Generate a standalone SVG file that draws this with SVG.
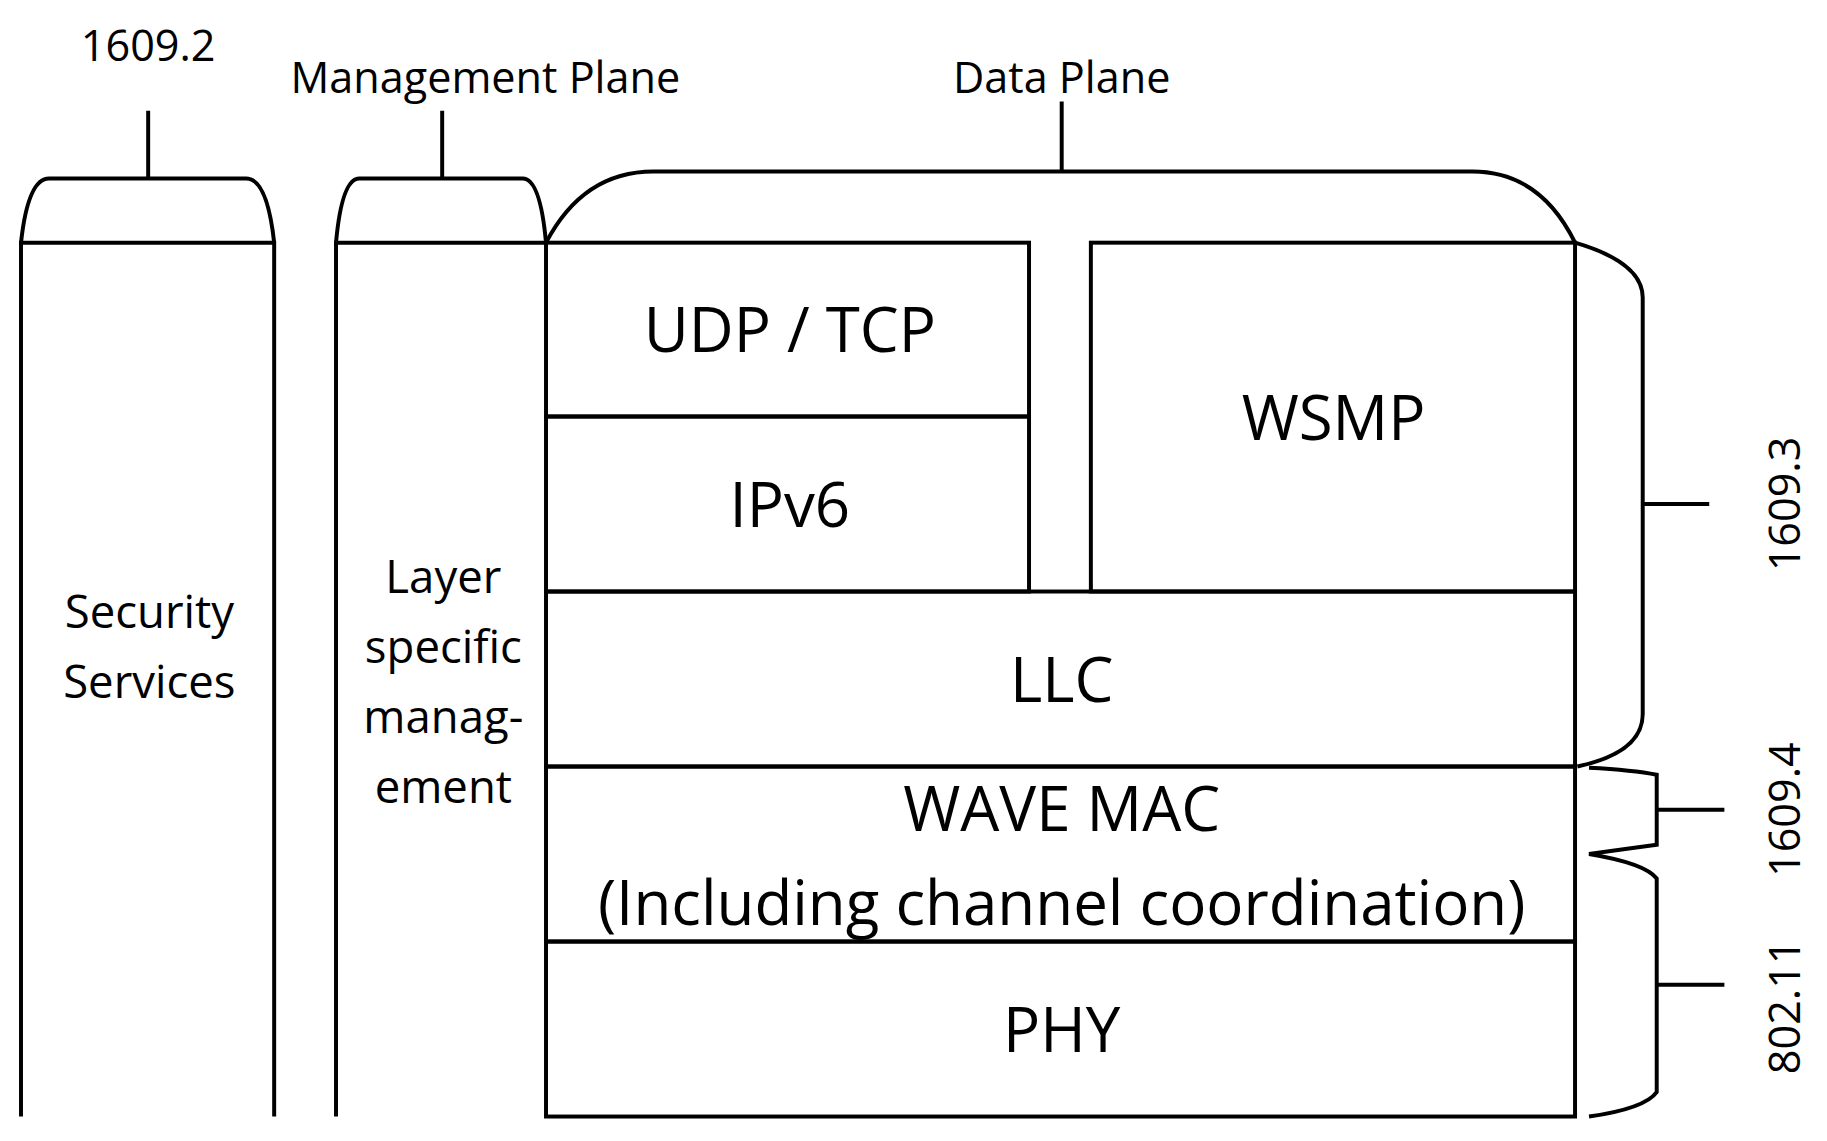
<svg xmlns="http://www.w3.org/2000/svg" width="1827" height="1141" viewBox="0 0 1827 1141">
<style>
.s{fill:none;stroke:#000;stroke-width:3.4}
text{font-family:"Open Sans",Lato,sans-serif;fill:#000;text-anchor:middle}
.sm{font-size:37px}.md{font-size:39px}.lg{font-size:53px}
</style>
<rect width="1827" height="1141" fill="#fff"/>
<g transform="scale(1.1667)">
<g id="security">
<path class="s" d="M18,957 V208 H235 V957 M18,208 Q24,153 42,153 H211 Q229,153 235,208 M127,153 V95"/>
<text class="sm" x="127" y="52">1609.2</text>
<text class="md" x="128" y="538">Security</text>
<text class="md" x="128" y="598">Services</text>
</g>
<g id="management">
<path class="s" d="M288,957 V208 H468 M288,208 Q293,153 308,153 H448 Q463,153 468,208 M379,153 V95"/>
<text class="sm" x="416" y="80">Management Plane</text>
<text class="md" x="380" y="508">Layer</text>
<text class="md" x="380" y="568">specific</text>
<text class="md" x="380" y="628">manag-</text>
<text class="md" x="380" y="688">ement</text>
</g>
<g id="dataplane">
<path class="s" d="M468,208 Q500,147 560,147 H1262 Q1320,147 1350,208 M910,147 V87"/>
<text class="sm" x="910" y="80">Data Plane</text>
</g>
<g id="udp"><rect class="s" x="468" y="208" width="414" height="149"/><text class="lg" x="677" y="302">UDP / TCP</text></g>
<g id="ipv6"><rect class="s" x="468" y="357" width="414" height="150"/><text class="lg" x="677" y="452">IPv6</text></g>
<g id="wsmp"><rect class="s" x="935" y="208" width="415" height="299"/><text class="lg" x="1143" y="377">WSMP</text></g>
<g id="llc"><rect class="s" x="468" y="507" width="882" height="150"/><text class="lg" x="910" y="602">LLC</text></g>
<g id="wavemac"><rect class="s" x="468" y="657" width="882" height="150"/><text class="lg" x="910" y="712">WAVE MAC</text><text class="lg" x="910" y="793">(Including channel coordination)</text></g>
<g id="phy"><rect class="s" x="468" y="807" width="882" height="150"/><text class="lg" x="910" y="902">PHY</text></g>
<g id="connectors">
<path class="s" d="M1350,208 Q1408,225 1408,255 V612 Q1408,645 1352,657 M1408,432 H1465"/>
<path class="s" d="M1362,658 Q1400,660 1420,664 V724 Q1390,728 1362,732 Q1410,740 1420,753 V936 Q1410,950 1362,957 M1420,694 H1478 M1420,844 H1478"/>
</g>
<g id="labels">
<text class="sm" transform="translate(1543,432) rotate(-90)">1609.3</text>
<text class="sm" transform="translate(1543,694) rotate(-90)">1609.4</text>
<text class="sm" transform="translate(1543,863) rotate(-90)">802.11</text>
</g>
</g>
</svg>
